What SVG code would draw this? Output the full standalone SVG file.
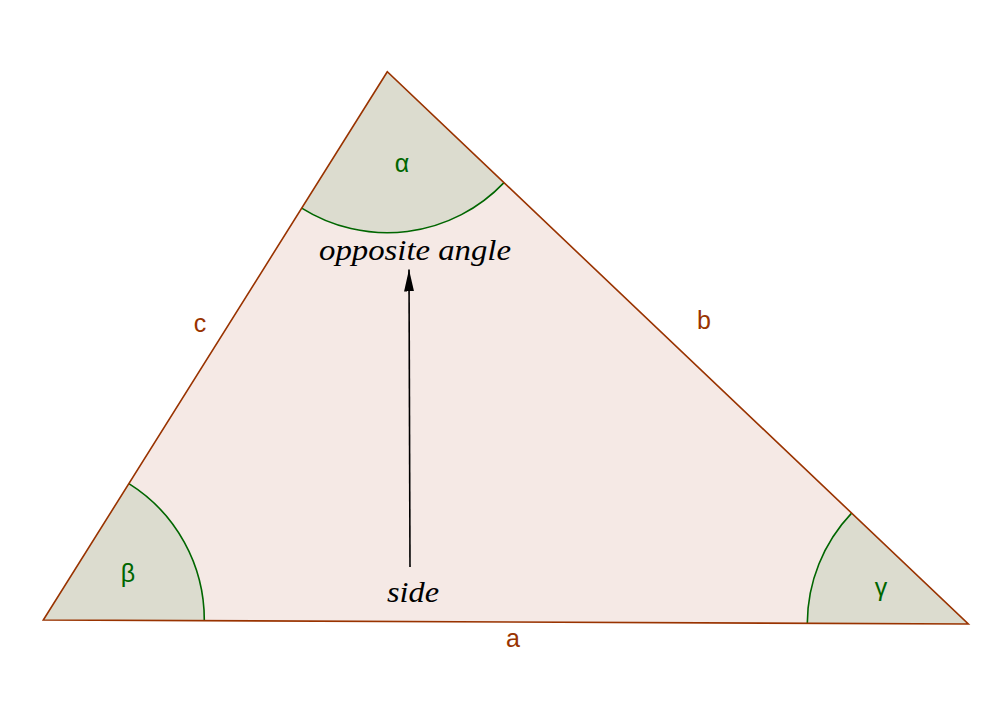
<svg xmlns="http://www.w3.org/2000/svg" width="1000" height="715" viewBox="0 0 1000 715">
<defs>
<style>
.tri{fill:#f5e9e5;stroke:none}
.edge{fill:none;stroke:#993300;stroke-width:1.6;stroke-linejoin:miter}
.sector{fill:#dcdccf;stroke:none}
.arc{fill:none;stroke:#006600;stroke-width:1.6}
.lblG{font-family:"Liberation Sans",Arial,sans-serif;font-size:25px;fill:#006600;text-anchor:middle}
.lblB{font-family:"Liberation Sans",Arial,sans-serif;font-size:25px;fill:#993300;text-anchor:middle}
.math{font-family:"Liberation Serif","DejaVu Serif",serif;font-style:italic;font-size:29px;fill:#000}
.conn{stroke:#000;stroke-width:1.6;fill:none}
</style>
<marker id="ah" markerWidth="22" markerHeight="10" refX="22" refY="5" orient="auto" markerUnits="userSpaceOnUse" viewBox="0 0 22 10">
<path d="M22,5 L0,0 L0,10 Z" fill="#000"/>
</marker>
</defs>
<rect width="1000" height="715" fill="#fff"/>
<g id="triangle">
<polygon class="tri" points="387.3,71.7 43.3,620 968.3,624"/>
</g>
<g id="angle-alpha">
<path class="sector" d="M387.3,71.7 L301.7,208.1 A161,161 0 0 0 504,182.6 Z"/>
<path class="arc" d="M301.7,208.1 A161,161 0 0 0 504,182.6"/>
<text class="lblG" x="402" y="172">α</text>
</g>
<g id="angle-beta">
<path class="sector" d="M43.3,620 L128.9,483.6 A161,161 0 0 1 204.3,620.7 Z"/>
<path class="arc" d="M128.9,483.6 A161,161 0 0 1 204.3,620.7"/>
<text class="lblG" x="128" y="582">β</text>
</g>
<g id="angle-gamma">
<path class="sector" d="M968.3,624 L851.6,513.1 A161,161 0 0 0 807.3,623.3 Z"/>
<path class="arc" d="M851.6,513.1 A161,161 0 0 0 807.3,623.3"/>
<text class="lblG" x="881" y="596">γ</text>
</g>
<g id="edges">
<polygon class="edge" points="387.3,71.7 43.3,620 968.3,624"/>
<text class="lblB" x="200" y="332">c</text>
<text class="lblB" x="704" y="329">b</text>
<text class="lblB" x="513" y="647">a</text>
</g>
<g id="label-opposite">
<text class="math" x="319" y="260" textLength="192" lengthAdjust="spacingAndGlyphs">opposite angle</text>
</g>
<g id="label-side">
<text class="math" x="387" y="602" textLength="52" lengthAdjust="spacingAndGlyphs">side</text>
</g>
<g id="connectors">
<line class="conn" x1="410" y1="567" x2="409" y2="269.5" marker-end="url(#ah)"/>
</g>
</svg>
